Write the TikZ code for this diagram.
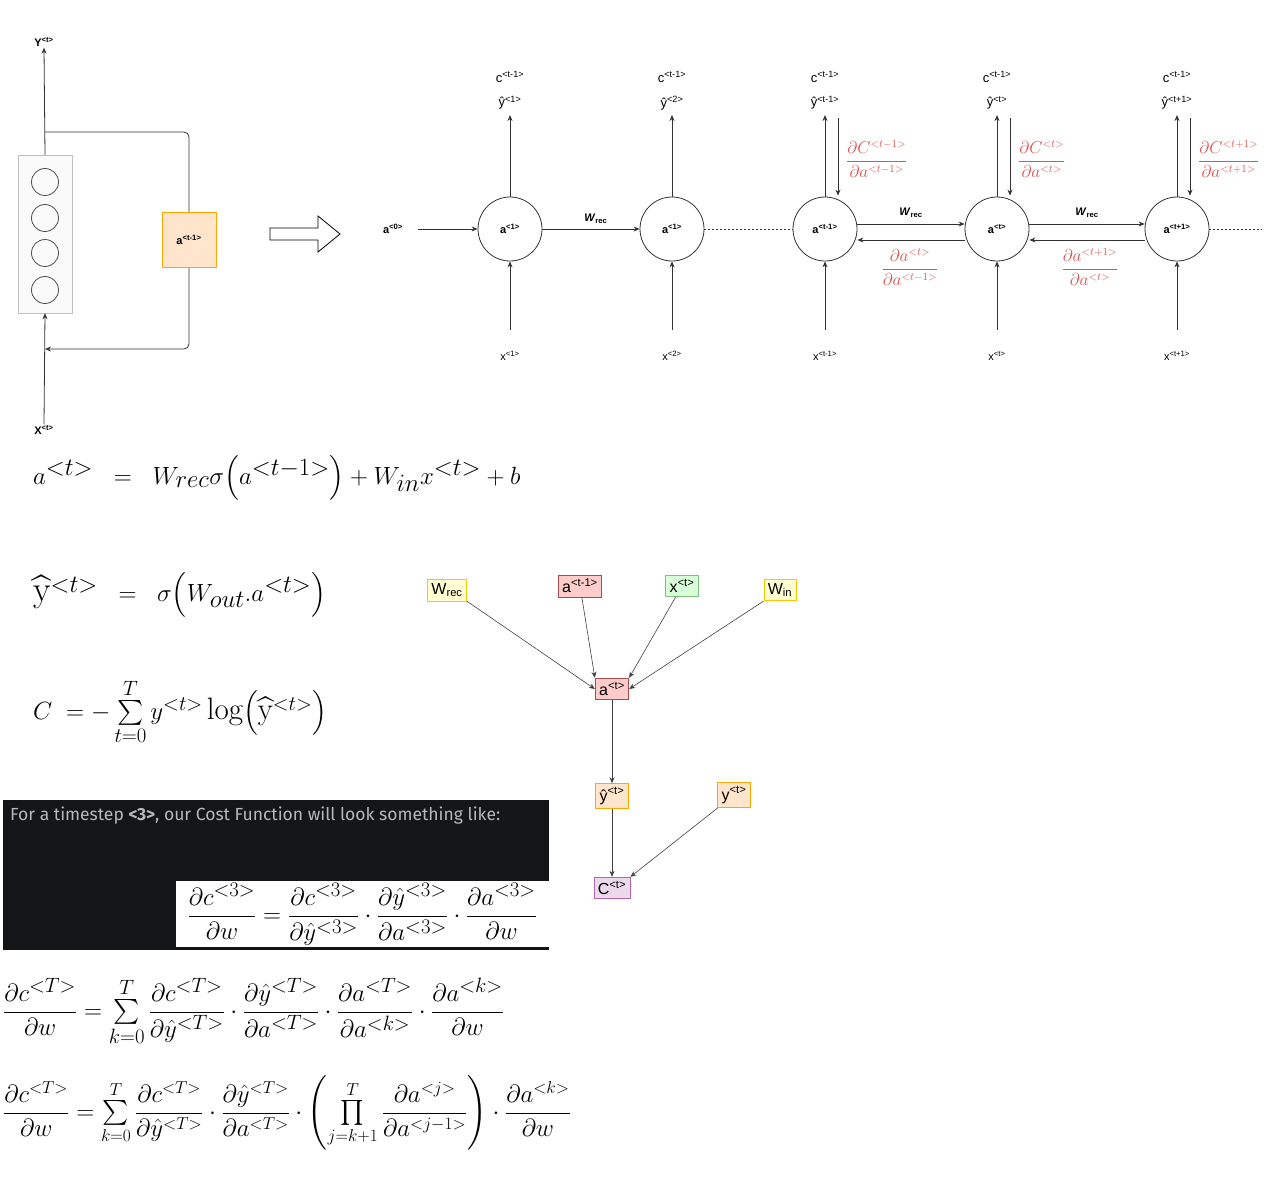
\documentclass[tikz,border=0pt]{standalone}
\usepackage{amsmath}
\usepackage{fontspec}
\setsansfont{Liberation Sans}
\newfontfamily\plex{Fira Sans}
\usetikzlibrary{arrows.meta}
\definecolor{redt}{HTML}{D9534F}
\definecolor{boxbg}{HTML}{141517}
\tikzset{
  x=1pt,y=-1pt,
  ln/.style={draw=black!80,line width=0.8pt},
  arr/.style={ln,-{Stealth[length=6pt,width=5pt]}},
  lbl/.style={font=\sffamily\fontsize{11}{12}\selectfont\bfseries,inner sep=1pt},
  cell/.style={circle,draw=black!80,line width=0.8pt,minimum size=64pt,inner sep=0pt,font=\sffamily\fontsize{11}{12}\selectfont\bfseries},
  rfrac/.style={text=redt,font=\fontsize{16}{18}\selectfont,inner sep=1pt},
  gbox/.style={draw,line width=0.7pt,inner sep=4pt,font=\sffamily\fontsize{16}{18}\selectfont},
  yb/.style={gbox,fill=yellow!18,draw=yellow!60!orange},
  rb/.style={gbox,fill=red!20,draw=red!50!black!70},
  gb/.style={gbox,fill=green!15,draw=green!50!black!50},
  ob/.style={gbox,fill=orange!20,draw=orange!70!yellow},
  pb/.style={gbox,fill=violet!15,draw=violet!60},
  eq/.style={inner sep=0pt,anchor=west},
}
\begin{document}
\begin{tikzpicture}
\useasboundingbox (0,0) rectangle (1285,1179);
% ---- folded RNN
\node[draw=black!25,fill=black!2,minimum width=54pt,minimum height=158pt,inner sep=0] (lay) at (45,234) {};
\foreach \yy/\n in {182/c1,218/c2,253/c3,290/c4} \node[circle,draw=black!70,line width=0.8pt,minimum size=27pt,inner sep=0] (\n) at (45,\yy) {};
\node[lbl] (Y) at (44,42) {Y\textsuperscript{<t>}};
\node[lbl] (X) at (44,430) {X\textsuperscript{<t>}};
\node[ob,minimum width=54pt,minimum height=55pt,font=\sffamily\fontsize{11}{12}\selectfont\bfseries] (am) at (189,240) {a\textsuperscript{<t-1>}};
\draw[arr] (lay.north) -- (Y.south);
\coordinate (j1) at (45,132);
\coordinate (j2) at (45,349);
\draw[ln,rounded corners=5pt] (j1) -| (am.north);
\draw[arr,rounded corners=5pt] (am.south) |- (j2);
\draw[arr] (X.north) -- (lay.south);
% hollow arrow
\draw[line width=0.8pt] (270,228) -- (318,228) -- (318,216) -- (340,234) -- (318,252) -- (318,240) -- (270,240) -- cycle;
% ---- unrolled
\node[lbl] (a0) at (393,229) {a\textsuperscript{<0>}};
\node[cell] (n1) at (510,229) {a\textsuperscript{<1>}};
\node[cell] (n2) at (672,229) {a\textsuperscript{<1>}};
\node[cell] (n3) at (825,229) {a\textsuperscript{<t-1>}};
\node[cell] (n4) at (997,229) {a\textsuperscript{<t>}};
\node[cell] (n5) at (1177,229) {a\textsuperscript{<t+1>}};
\draw[arr] (a0.east) ++(14,0) -- (n1.west);
\draw[arr] (n1) -- node[lbl,above=4pt,pos=0.55] (w1) {\textit{W}\textsubscript{rec}} (n2);
\draw[ln,dashed,dash pattern=on 2pt off 2pt,line width=0.6pt] (n2.east) -- (n3.west);
\coordinate (e5) at (1262,229);
\draw[ln,dashed,dash pattern=on 2pt off 2pt,line width=0.6pt] (n5.east) -- (e5);
\draw[arr] ([yshift=5pt]n3.east) -- node[lbl,above=5pt] (w2) {\textit{W}\textsubscript{rec}} ([yshift=5pt]n4.west);
\draw[arr] ([yshift=-11pt]n4.west) -- ([yshift=-11pt]n3.east);
\draw[arr] ([yshift=5pt]n4.east) -- node[lbl,above=5pt] (w3) {\textit{W}\textsubscript{rec}} ([yshift=5pt]n5.west);
\draw[arr] ([yshift=-11pt]n5.west) -- ([yshift=-11pt]n4.east);
\node[rfrac] (b1) at (910,267) {$\dfrac{\partial a^{<t>}}{\partial a^{<t-1>}}$};
\node[rfrac] (b2) at (1090,267) {$\dfrac{\partial a^{<t+1>}}{\partial a^{<t>}}$};
\foreach \n/\yl/\cl/\xl in {n1/{ŷ\textsuperscript{<1>}}/{c\textsuperscript{<t-1>}}/{x\textsuperscript{<1>}},
  n2/{ŷ\textsuperscript{<2>}}/{c\textsuperscript{<t-1>}}/{x\textsuperscript{<2>}},
  n3/{ŷ\textsuperscript{<t-1>}}/{c\textsuperscript{<t-1>}}/{x\textsuperscript{<t-1>}},
  n4/{ŷ\textsuperscript{<t>}}/{c\textsuperscript{<t-1>}}/{x\textsuperscript{<t>}},
  n5/{ŷ\textsuperscript{<t+1>}}/{c\textsuperscript{<t-1>}}/{x\textsuperscript{<t+1>}}} {
  \node[lbl,font=\sffamily\fontsize{13}{14}\selectfont] (\n y) at ([yshift=126pt]\n) {\yl};
  \node[lbl,font=\sffamily\fontsize{13}{14}\selectfont] (\n c) at ([yshift=152pt]\n) {\cl};
  \node[lbl,font=\sffamily\fontsize{11}{12}\selectfont] (\n x) at ([yshift=-127pt]\n) {\xl};
  \draw[arr] (\n.north) -- ([yshift=114pt]\n.center);
  \draw[arr] ([yshift=-101pt]\n.center) -- (\n.south);
}
\foreach \n/\f in {n3/{\dfrac{\partial C^{<t-1>}}{\partial a^{<t-1>}}},n4/{\dfrac{\partial C^{<t>}}{\partial a^{<t>}}},n5/{\dfrac{\partial C^{<t+1>}}{\partial a^{<t+1>}}}} {
  \coordinate (\n d) at ([xshift=13pt,yshift=111pt]\n.center);
  \draw[arr] (\n d) -- ([xshift=13pt,yshift=1pt]\n.north);
  \node[rfrac,anchor=west] at ([xshift=20pt,yshift=70pt]\n.center) {$\f$};
}
% ---- equations
\node[eq,font=\fontsize{38}{42}\selectfont] (e1) at (33,478) {$a^{<t>}\;\; = \;\;W_{rec}\sigma\!\left(a^{<t-1>}\right) + W_{in}x^{<t>} + b$};
\node[eq,font=\fontsize{36}{40}\selectfont] (e2) at (33,595) {$\mathrm{\hat{y}}^{<t>}\;\; = \;\;\sigma\!\left(W_{out}.a^{<t>}\right)$};
\node[eq,font=\fontsize{31}{36}\selectfont] (e3) at (33,712) {$C\; = -\sum\limits_{t=0}^{T} y^{<t>}\log\!\left(\mathrm{\hat{y}}^{<t>}\right)$};
% black box
\fill[fill=boxbg] (3,800) rectangle (549,950);
\node[anchor=west,text=white!72!black,font=\plex\fontsize{17.5}{20}\selectfont,inner sep=0] (tx) at (10,816) {For a timestep \textbf{<3>}, our Cost Function will look something like:};
\node[fill=white,anchor=north east,inner sep=1pt,minimum width=373pt,minimum height=66pt,font=\fontsize{28}{32}\selectfont] (e4) at (549,881) {$\dfrac{\partial c^{<3>}}{\partial w}=\dfrac{\partial c^{<3>}}{\partial \hat y^{<3>}}\cdot\dfrac{\partial \hat y^{<3>}}{\partial a^{<3>}}\cdot\dfrac{\partial a^{<3>}}{\partial w}$};
\node[eq,font=\fontsize{31}{35}\selectfont] (e5q) at (3,1012) {$\dfrac{\partial c^{<T>}}{\partial w}=\sum\limits_{k=0}^{T}\dfrac{\partial c^{<T>}}{\partial \hat y^{<T>}}\cdot\dfrac{\partial \hat y^{<T>}}{\partial a^{<T>}}\cdot\dfrac{\partial a^{<T>}}{\partial a^{<k>}}\cdot\dfrac{\partial a^{<k>}}{\partial w}$};
\node[eq,font=\fontsize{24}{28}\selectfont] (e6q) at (3,1113) {$\dfrac{\partial c^{<T>}}{\partial w}=\sum\limits_{k=0}^{T}\dfrac{\partial c^{<T>}}{\partial \hat y^{<T>}}\cdot\dfrac{\partial \hat y^{<T>}}{\partial a^{<T>}}\cdot\left(\prod\limits_{j=k+1}^{T}\dfrac{\partial a^{<j>}}{\partial a^{<j-1>}}\right)\cdot\dfrac{\partial a^{<k>}}{\partial w}$};
% ---- graph
\node[yb] (g1) at (447,590) {W\textsubscript{rec}};
\node[rb] (g2) at (580,586) {a\textsuperscript{<t-1>}};
\node[gb] (g3) at (682,586) {x\textsuperscript{<t>}};
\node[yb] (g4) at (780,590) {W\textsubscript{in}};
\node[rb] (g5) at (612,689) {a\textsuperscript{<t>}};
\node[ob] (g6) at (612,796) {ŷ\textsuperscript{<t>}};
\node[ob] (g7) at (734,795) {y\textsuperscript{<t>}};
\node[pb] (g8) at (612,888) {C\textsuperscript{<t>}};
\tikzset{garr/.style={draw=black!75,line width=0.6pt,-{Stealth[length=6pt,width=5pt]}}}
\draw[garr] (g1.south east) -- (g5.west);
\draw[garr] (g2) -- (g5.north west);
\draw[garr] (g3) -- (g5.north east);
\draw[garr] (g4.south west) -- (g5.east);
\draw[garr] (g5) -- (g6);
\draw[garr] (g6) -- (g8);
\draw[garr] (g7) -- (g8.north east);
\end{tikzpicture}
\end{document}
